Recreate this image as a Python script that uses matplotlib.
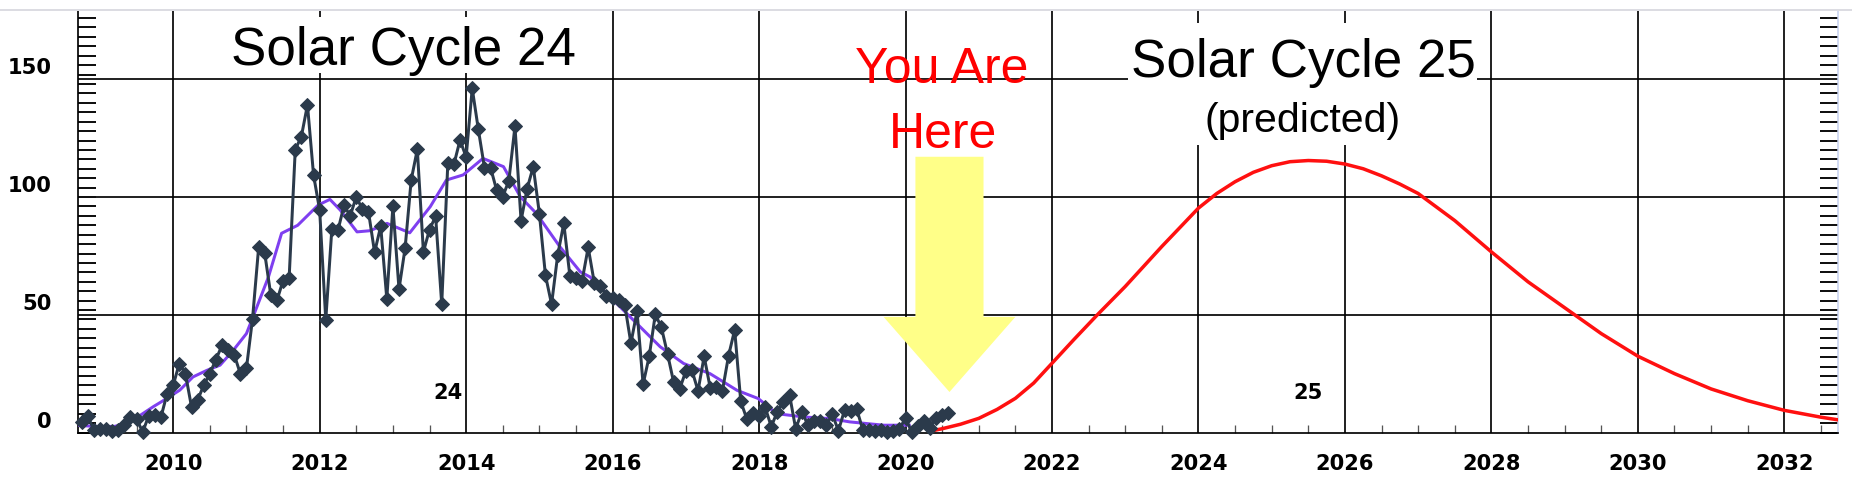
import matplotlib
matplotlib.use('Agg')
import matplotlib.pyplot as plt
from matplotlib.patches import Rectangle, FancyArrow
from matplotlib.ticker import MultipleLocator
import numpy as np

# monthly mean sunspot number, Oct 2008 .. Aug 2020
first_month = 2008 + 9 / 12
monthly_ssn = [
    4.5, 7.0, 1.0,
    1.5, 1.5, 0.8, 1.2, 3.0, 6.5, 5.8, 0.2, 7.2, 7.3, 6.6, 16.5,
    20.1, 29.3, 25.0, 10.9, 13.7, 20.1, 25.0, 31.0, 37.0, 35.0, 33.0, 25.0,
    27.3, 48.3, 78.6, 76.1, 58.2, 56.1, 64.5, 65.8, 120.1, 125.7, 139.1, 109.3,
    94.4, 47.8, 86.6, 85.9, 96.5, 92.0, 100.1, 94.8, 93.7, 76.5, 87.6, 56.8,
    96.1, 60.9, 78.3, 107.3, 120.2, 76.7, 86.2, 91.8, 54.5, 114.4, 113.9, 124.2,
    117.0, 146.1, 128.7, 112.5, 112.5, 102.9, 100.2, 106.9, 130.0, 90.0, 103.6, 112.9,
    93.0, 66.7, 54.5, 75.3, 88.8, 66.5, 65.8, 64.4, 78.6, 63.6, 62.2, 58.0,
    57.0, 56.4, 54.1, 37.9, 51.5, 20.5, 32.4, 50.2, 44.6, 33.4, 21.4, 18.5,
    26.1, 26.4, 17.7, 32.3, 18.9, 19.2, 17.8, 32.6, 43.6, 13.2, 5.7, 8.2,
    6.8, 10.7, 2.5, 8.9, 13.1, 15.9, 1.6, 8.7, 3.3, 4.9, 4.9, 3.1,
    7.7, 0.8, 9.4, 9.1, 9.9, 1.2, 0.9, 0.5, 1.1, 0.4, 0.5, 1.5,
    6.2, 0.2, 2.8, 4.9, 2.1, 6.3, 7.3, 8.4,
]

# smoothed sunspot number (purple)
smooth_years = [2008.70, 2009.00, 2009.20, 2009.38, 2009.55, 2009.73, 2009.91,
                2010.09, 2010.27, 2010.46, 2010.64, 2010.82, 2011.00, 2011.09,
                2011.30, 2011.48, 2011.70, 2011.98, 2012.14, 2012.28, 2012.51,
                2012.69, 2012.92, 2013.23, 2013.51, 2013.73, 2013.96, 2014.23,
                2014.51, 2014.74, 2014.96, 2015.28, 2015.56, 2015.69, 2016.01,
                2016.33, 2016.65, 2016.97, 2017.33, 2017.70, 2017.99, 2018.24,
                2018.61, 2018.97, 2019.24, 2019.70, 2020.05]
smooth_ssn = [3.0, 2.5, 2.6, 4.0, 7.3, 11.0, 14.4,
              18.0, 23.6, 26.4, 28.6, 34.9, 42.0, 49.1,
              66.0, 84.6, 88.0, 96.6, 99.0, 94.5, 85.2,
              85.7, 88.8, 84.8, 95.9, 107.2, 109.4, 116.4,
              112.9, 100.1, 93.0, 78.9, 68.2, 66.1, 56.2,
              46.3, 36.4, 29.3, 25.0, 17.9, 14.4, 8.0,
              6.6, 5.9, 4.5, 3.1, 3.1]

# predicted cycle 25 (red)
pred_years = [2020.33, 2020.50, 2020.75, 2021.00, 2021.25, 2021.50, 2021.75,
              2022.00, 2022.30, 2022.62, 2023.00, 2023.50, 2024.00, 2024.25,
              2024.50, 2024.75, 2025.00, 2025.25, 2025.50, 2025.75, 2026.00,
              2026.25, 2026.50, 2026.75, 2027.00, 2027.50, 2028.00, 2028.50,
              2029.00, 2029.50, 2030.00, 2030.50, 2031.00, 2031.50, 2032.00,
              2032.50, 2032.75]
pred_ssn = [0.5, 1.6, 3.5, 6.0, 9.8, 14.5, 21.0,
            29.4, 39.5, 50.0, 62.0, 79.0, 95.3, 101.5,
            106.5, 110.5, 113.3, 115.0, 115.5, 115.2, 114.0,
            112.0, 109.0, 105.5, 101.5, 90.0, 76.7, 64.0,
            53.0, 42.0, 32.4, 25.0, 18.5, 13.5, 9.4,
            6.5, 5.3]

x_ticks = list(range(2010, 2033, 2))
y_ticks = [0, 50, 100, 150]

months = first_month + np.arange(len(monthly_ssn)) / 12

W, H = 1852, 497
fig = plt.figure(figsize=(W / 72, H / 72), dpi=72)
ax = fig.add_axes([78 / W, 1 - 432.5 / H, 1760 / W, 421.5 / H])
ax.set_xlim(2008.70, 2032.733)
ax.set_ylim(0, 179)

for x in x_ticks:
    ax.axvline(x, color='black', lw=1.7, zorder=1)
for y in y_ticks[1:]:
    ax.axhline(y, color='black', lw=1.7, zorder=1)

# white boxes behind the cycle titles
ax.add_patch(Rectangle((2010.71, 152.5), 4.87, 24, facecolor='white',
                       edgecolor='none', zorder=2))
ax.add_patch(Rectangle((2023.04, 122.0), 4.76, 52, facecolor='white',
                       edgecolor='none', zorder=2))

# "you are here" arrow
ax.add_patch(FancyArrow(2020.60, 117.1, 0, -99.9, width=0.93, head_width=1.80,
                        head_length=31.9, length_includes_head=True,
                        facecolor='#ffff88', edgecolor='none', zorder=3))

ax.plot(smooth_years, smooth_ssn, color='#7f3ff0', lw=3, zorder=4)
ax.plot(pred_years, pred_ssn, color='#ff1010', lw=3.5, zorder=4)
ax.plot(months, monthly_ssn, '-D', color='#2b3a4b', lw=3, ms=9.5,
        clip_on=False, zorder=5)

title_font = dict(family='Liberation Sans', color='black', zorder=6)
ax.text(2013.14, 156.1, 'Solar Cycle 24', fontsize=53, ha='center',
        va='baseline', **title_font)
ax.text(2025.43, 151.0, 'Solar Cycle 25', fontsize=53, ha='center',
        va='baseline', **title_font)
ax.text(2025.42, 127.6, '(predicted)', fontsize=41, ha='center',
        va='baseline', **title_font)
ax.text(2020.50, 148.5, 'You Are', fontsize=50, ha='center', va='baseline',
        color='#ff0000', family='Liberation Sans', zorder=6)
ax.text(2020.51, 120.8, 'Here', fontsize=50, ha='center', va='baseline',
        color='#ff0000', family='Liberation Sans', zorder=6)

ax.text(2013.75, 16.7, '24', fontsize=21, fontweight='bold', ha='center',
        va='center', family='DejaVu Sans', zorder=6)
ax.text(2025.50, 16.7, '25', fontsize=21, fontweight='bold', ha='center',
        va='center', family='DejaVu Sans', zorder=6)

# axes and ticks
ax.set_xticks(x_ticks)
ax.set_xticklabels([str(x) for x in x_ticks], fontsize=21, fontweight='bold',
                   family='DejaVu Sans')
ax.tick_params(axis='x', which='major', length=0, pad=22)
ax.xaxis.set_minor_locator(MultipleLocator(0.5))
ax.tick_params(axis='x', which='minor', direction='in', length=8, width=1.3,
               color='#555555')
ax.set_yticks([])
ax.yaxis.set_minor_locator(MultipleLocator(4))
ax.tick_params(axis='y', which='minor', direction='in', length=18, width=2,
               left=True, right=True, color='#111111')

for v in y_ticks:
    ax.annotate(str(v), xy=(0, v), xycoords=('axes fraction', 'data'),
                xytext=(-26, 5), textcoords='offset points', ha='right',
                va='baseline', fontsize=21, fontweight='bold',
                family='DejaVu Sans', annotation_clip=False)

ax.spines['top'].set_visible(False)
ax.spines['right'].set_color('#c5d0ee')
ax.spines['right'].set_linewidth(1.5)
for side in ('left', 'bottom'):
    ax.spines[side].set_color('black')
    ax.spines[side].set_linewidth(1.7)

fig.add_artist(plt.Line2D([0, 1], [1 - 10 / H, 1 - 10 / H], color='#dcdce2',
                          lw=2, transform=fig.transFigure))

fig.savefig('out.png', dpi=72)
